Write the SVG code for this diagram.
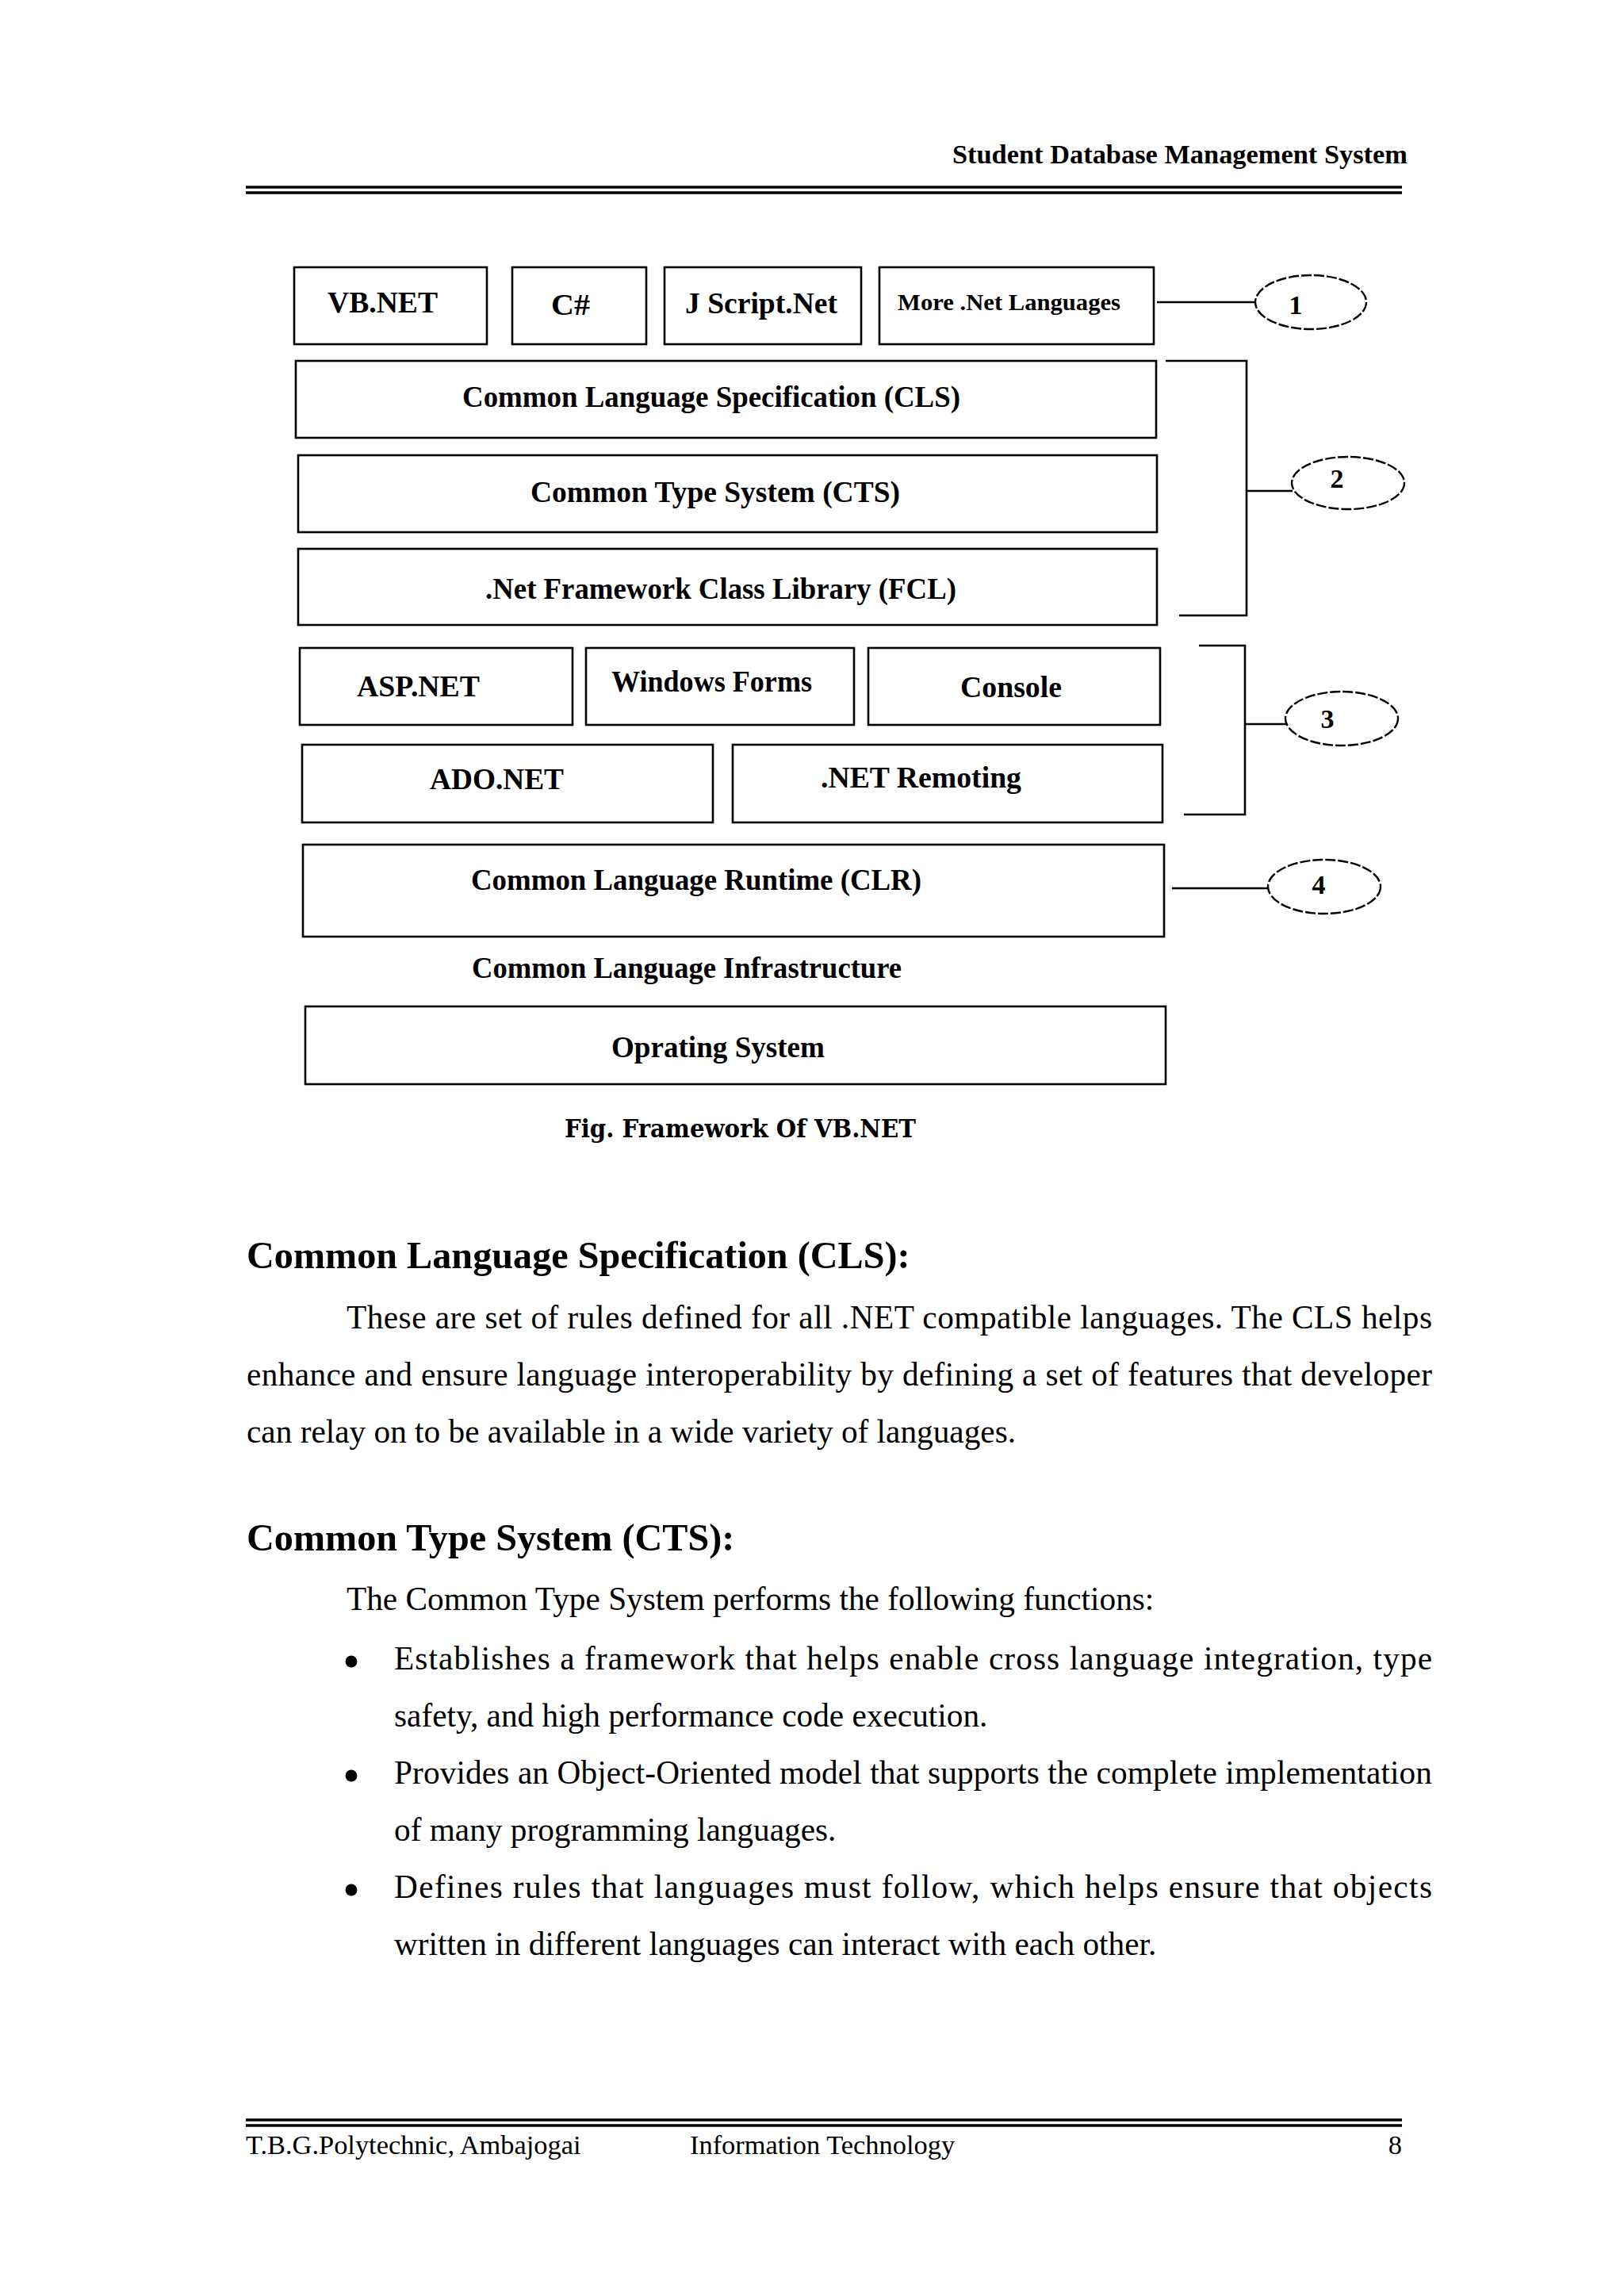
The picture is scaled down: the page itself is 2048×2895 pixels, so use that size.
<svg xmlns="http://www.w3.org/2000/svg" width="2048" height="2895" viewBox="0 0 2048 2895">
<style>
.box{fill:#fff;stroke:#000;stroke-width:2.6}
.con{fill:none;stroke:#000;stroke-width:2.6}
.ell{fill:#fff;stroke:#000;stroke-width:2.4;stroke-dasharray:13 3}
.lbl{font-family:"Liberation Serif","Times New Roman",serif;font-weight:bold;font-size:37px;fill:#000}
.sm{font-size:29px}
.num{font-family:"Liberation Serif","Times New Roman",serif;font-weight:bold;font-size:34px;fill:#000;text-anchor:middle}
.cap{font-family:"DejaVu Serif",serif;font-weight:bold;font-size:31px;fill:#000}
.body{font-family:"Liberation Serif","Times New Roman",serif;font-size:41.3px;fill:#000}
.h{font-family:"Liberation Serif","Times New Roman",serif;font-size:48.2px;font-weight:bold;fill:#000}
.hf{font-family:"Liberation Serif","Times New Roman",serif;font-size:34.4px;fill:#000}
.rule{stroke:#000;stroke-width:3.4}
</style>
<rect width="2048" height="2895" fill="#fff"/>
<g id="header">
<text class="hf" x="1775" y="206" font-weight="bold" text-anchor="end">Student Database Management System</text>
<line class="rule" x1="310" y1="236" x2="1768" y2="236"/>
<line class="rule" x1="310" y1="243" x2="1768" y2="243"/>
</g>
<g id="connectors">
<line class="con" x1="1459" y1="381" x2="1583" y2="381"/>
<path class="con" d="M1470 455 H1572 V776 H1487 M1572 619 H1630"/>
<path class="con" d="M1512 814 H1570 V1027 H1493 M1570 913 H1622"/>
<line class="con" x1="1478" y1="1120" x2="1600" y2="1120"/>
</g>
<g id="vbnet"><rect class="box" x="371" y="337" width="243" height="97"/><text class="lbl" x="413" y="394" textLength="139" lengthAdjust="spacingAndGlyphs">VB.NET</text></g>
<g id="csharp"><rect class="box" x="646" y="337" width="169" height="97"/><text class="lbl" x="695" y="397" textLength="49" lengthAdjust="spacingAndGlyphs">C#</text></g>
<g id="jscript"><rect class="box" x="838" y="337" width="248" height="97"/><text class="lbl" x="864" y="395" textLength="192" lengthAdjust="spacingAndGlyphs">J Script.Net</text></g>
<g id="morenet"><rect class="box" x="1109" y="337" width="346" height="97"/><text class="lbl sm" x="1132" y="391" textLength="281" lengthAdjust="spacingAndGlyphs">More .Net Languages</text></g>
<g id="marker1"><ellipse class="ell" cx="1653" cy="381" rx="70" ry="34"/><text class="num" x="1634" y="396">1</text></g>
<g id="cls"><rect class="box" x="373" y="455" width="1085" height="97"/><text class="lbl" x="583" y="513" textLength="628" lengthAdjust="spacingAndGlyphs">Common Language Specification (CLS)</text></g>
<g id="cts"><rect class="box" x="376" y="574" width="1083" height="97"/><text class="lbl" x="669" y="633" textLength="466" lengthAdjust="spacingAndGlyphs">Common Type System (CTS)</text></g>
<g id="fcl"><rect class="box" x="376" y="692" width="1083" height="96"/><text class="lbl" x="612" y="755" textLength="594" lengthAdjust="spacingAndGlyphs">.Net Framework Class Library (FCL)</text></g>
<g id="marker2"><ellipse class="ell" cx="1700" cy="609" rx="71" ry="33"/><text class="num" x="1686" y="615">2</text></g>
<g id="aspnet"><rect class="box" x="378" y="817" width="344" height="97"/><text class="lbl" x="450" y="878" textLength="155" lengthAdjust="spacingAndGlyphs">ASP.NET</text></g>
<g id="winforms"><rect class="box" x="739" y="817" width="338" height="97"/><text class="lbl" x="771" y="872" textLength="253" lengthAdjust="spacingAndGlyphs">Windows Forms</text></g>
<g id="console"><rect class="box" x="1095" y="817" width="368" height="97"/><text class="lbl" x="1211" y="879" textLength="128" lengthAdjust="spacingAndGlyphs">Console</text></g>
<g id="adonet"><rect class="box" x="381" y="939" width="518" height="98"/><text class="lbl" x="542" y="995" textLength="169" lengthAdjust="spacingAndGlyphs">ADO.NET</text></g>
<g id="remoting"><rect class="box" x="924" y="939" width="542" height="98"/><text class="lbl" x="1035" y="993" textLength="253" lengthAdjust="spacingAndGlyphs">.NET Remoting</text></g>
<g id="marker3"><ellipse class="ell" cx="1692" cy="906" rx="71" ry="34"/><text class="num" x="1674" y="918">3</text></g>
<g id="clr"><rect class="box" x="382" y="1065" width="1086" height="116"/><text class="lbl" x="594" y="1122" textLength="568" lengthAdjust="spacingAndGlyphs">Common Language Runtime (CLR)</text></g>
<g id="marker4"><ellipse class="ell" cx="1670" cy="1118" rx="71" ry="34"/><text class="num" x="1663" y="1127">4</text></g>
<g id="cli"><text class="lbl" x="595" y="1233" textLength="542" lengthAdjust="spacingAndGlyphs">Common Language Infrastructure</text></g>
<g id="os"><rect class="box" x="385" y="1269" width="1085" height="98"/><text class="lbl" x="771" y="1333" textLength="269" lengthAdjust="spacingAndGlyphs">Oprating System</text></g>
<g id="caption"><text class="cap" x="712" y="1434" textLength="443" lengthAdjust="spacingAndGlyphs">Fig. Framework Of  VB.NET</text></g>
<g id="text-cls">
<text class="h" x="311" y="1599">Common Language Specification (CLS):</text>
<text class="body" x="437" y="1675" textLength="1369" lengthAdjust="spacing">These are set of rules defined for all .NET compatible languages. The CLS helps</text>
<text class="body" x="311" y="1747" textLength="1495" lengthAdjust="spacing">enhance and ensure language interoperability by defining a set of features that developer</text>
<text class="body" x="311" y="1819">can relay on to be available in a wide variety of languages.</text>
</g>
<g id="text-cts">
<text class="h" x="311" y="1955">Common Type System (CTS):</text>
<text class="body" x="437" y="2030">The Common Type System performs the following functions:</text>
<circle cx="443" cy="2095" r="7.5"/>
<text class="body" x="497" y="2105" textLength="1309" lengthAdjust="spacing">Establishes a framework that helps enable cross language integration, type</text>
<text class="body" x="497" y="2177">safety, and high performance code execution.</text>
<circle cx="443" cy="2239" r="7.5"/>
<text class="body" x="497" y="2249" textLength="1309" lengthAdjust="spacing">Provides an Object-Oriented model that supports the complete implementation</text>
<text class="body" x="497" y="2321">of many programming languages.</text>
<circle cx="443" cy="2383" r="7.5"/>
<text class="body" x="497" y="2393" textLength="1309" lengthAdjust="spacing">Defines rules that languages must follow, which helps ensure that objects</text>
<text class="body" x="497" y="2465">written in different languages can interact with each other.</text>
</g>
<g id="footer">
<line class="rule" x1="310" y1="2673" x2="1768" y2="2673"/>
<line class="rule" x1="310" y1="2680" x2="1768" y2="2680"/>
<text class="hf" x="310" y="2716">T.B.G.Polytechnic, Ambajogai</text>
<text class="hf" x="870" y="2716">Information Technology</text>
<text class="hf" x="1768" y="2716" text-anchor="end">8</text>
</g>
</svg>
